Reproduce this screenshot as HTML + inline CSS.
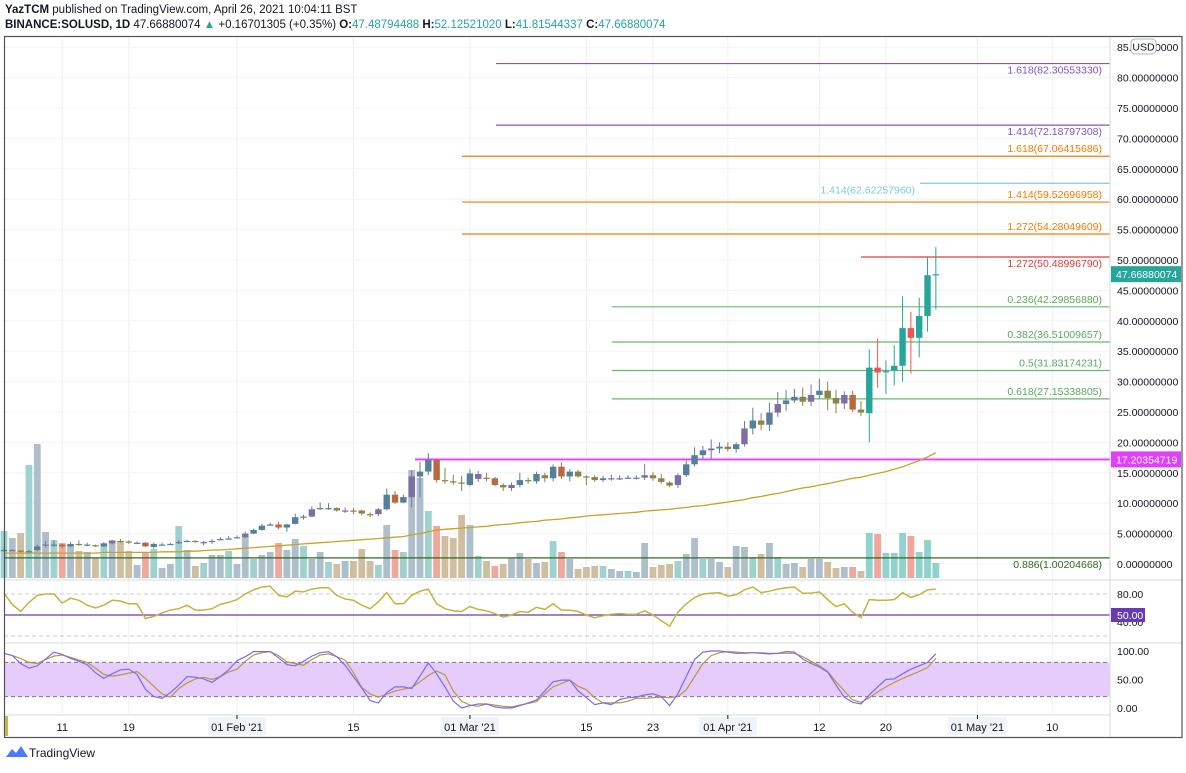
<!DOCTYPE html>
<html><head><meta charset="utf-8">
<style>
html,body{margin:0;padding:0;background:#fff;}
body{width:1186px;height:768px;overflow:hidden;font-family:"Liberation Sans",sans-serif;}
svg text{font-family:"Liberation Sans",sans-serif;}
</style></head>
<body>
<svg id="chart" width="1186" height="768" viewBox="0 0 1186 768" xmlns="http://www.w3.org/2000/svg">
<rect x="0" y="0" width="1186" height="768" fill="#ffffff"/>
<text x="5" y="13" font-size="11.5" fill="#131722"><tspan font-weight="bold">YazTCM</tspan> published on TradingView.com, April 26, 2021 10:04:11 BST</text>
<text x="5" y="28" font-size="11.5" fill="#131722"><tspan font-weight="bold">BINANCE:SOLUSD, 1D</tspan> 47.66880074 <tspan fill="#26a69a">▲</tspan> +0.16701305 (+0.35%) <tspan font-weight="bold">O:</tspan><tspan fill="#26a69a">47.48794488</tspan> <tspan font-weight="bold">H:</tspan><tspan fill="#26a69a">52.12521020</tspan> <tspan font-weight="bold">L:</tspan><tspan fill="#26a69a">41.81544337</tspan> <tspan font-weight="bold">C:</tspan><tspan fill="#26a69a">47.66880074</tspan></text>
<g id="grid"></g>
<g id="bands"></g>
<g id="volume"></g>
<g id="levels"></g>
<g id="candles"></g>
<g id="ind"></g>
<g id="axes"></g>
<g>
<path d="M6 757 l6-8 l4 4 l5-7 l7 11 z" fill="#2962ff" opacity="0.85"/>
<text x="29" y="757" font-size="12" fill="#131722">TradingView</text>
</g>
</svg>
<script>
const opens=[2.3,2.3,2.2,2.1,2.3,3.1,3.2,3.2,2.9,3.3,3.2,3.1,2.9,3.4,3.8,3.7,3.5,3.5,2.8,3.2,3.3,3.6,3.8,3.8,3.6,3.7,4.0,4.2,4.3,4.4,5.0,5.6,6.3,6.5,6.0,6.6,7.7,7.8,9.0,9.2,9.2,8.8,8.8,8.8,8.2,8.2,9.0,11.4,10.1,11.0,14.4,15.2,17.1,13.8,13.6,13.4,13.0,14.0,14.2,14.1,13.0,12.5,13.0,13.8,13.6,14.6,14.1,16.0,14.4,15.2,14.4,14.3,13.8,14.1,14.1,14.1,14.2,14.2,14.6,14.1,13.4,13.0,14.6,16.4,17.9,18.7,19.0,19.3,18.9,19.7,22.3,23.6,22.9,24.9,26.3,26.9,27.5,26.7,27.8,28.5,27.3,26.4,27.8,25.4,24.8,32.3,31.6,31.8,32.6,38.8,37.2,40.8,47.49];
const closes=[2.3,2.3,2.1,2.1,2.9,3.2,3.2,2.9,3.3,3.2,3.2,3.0,3.4,3.8,3.7,3.6,3.5,2.9,3.3,3.2,3.3,3.6,3.8,3.7,3.6,3.8,4.1,4.2,4.4,5.0,5.6,6.3,6.5,6.0,6.5,7.7,7.8,9.0,9.2,9.2,8.8,8.8,8.6,8.3,8.1,9.0,11.4,10.1,11.0,14.4,15.2,17.1,13.8,13.6,13.4,13.3,14.9,14.8,14.0,13.0,12.6,13.0,13.8,13.6,14.8,14.1,16.0,14.4,15.2,14.4,14.3,13.8,14.1,14.1,14.1,14.2,14.2,14.6,14.1,13.5,12.9,14.6,16.4,17.9,18.7,19.0,19.3,18.9,19.7,22.3,23.6,22.9,24.9,26.3,26.9,27.5,26.7,27.8,28.5,27.3,26.4,27.8,25.4,24.9,32.3,31.5,31.7,32.6,38.8,37.2,40.8,47.5,47.66880074];
const highs=[2.5,2.5,2.3,2.3,3.2,3.8,3.9,3.3,3.6,3.9,3.5,3.2,3.6,4.0,4.1,3.9,3.7,3.6,3.5,3.5,3.5,3.9,4.0,3.9,3.8,4.1,4.4,4.6,4.7,5.3,5.8,6.6,6.8,6.9,6.6,8.3,8.1,9.5,10.1,10.0,9.3,9.3,9.2,8.9,8.5,9.2,12.4,12.0,11.4,15.4,16.8,18.2,17.3,15.8,14.7,14.5,15.6,15.3,15.0,14.3,13.3,13.4,15.0,14.2,15.2,15.0,16.4,16.7,15.6,15.5,14.6,14.6,14.5,14.7,14.6,14.6,14.6,16.5,15.1,14.8,13.6,14.9,17.0,19.2,19.4,20.5,20.0,20.0,20.0,23.5,25.7,24.8,26.5,28.3,28.6,28.8,29.0,29.5,30.5,30.0,28.6,28.4,28.5,26.8,35.3,37.1,33.5,36.0,44.0,41.5,43.8,50.4,52.13];
const lows=[2.1,2.2,1.9,1.9,2.1,2.7,2.8,2.6,2.8,3.0,2.9,2.8,2.8,3.2,3.5,3.3,3.3,2.8,2.5,3.0,3.2,3.3,3.6,3.5,3.1,3.3,3.9,4.0,4.2,4.3,4.9,5.5,6.3,5.7,5.3,6.5,7.3,7.7,8.9,8.9,8.6,8.4,8.2,8.0,7.7,7.9,8.8,9.9,10.0,9.3,11.0,14.6,13.4,13.2,13.0,12.0,12.8,13.5,13.6,12.8,12.0,12.0,12.6,13.2,13.2,13.5,13.6,14.0,13.6,14.2,13.0,13.5,13.5,13.7,13.8,14.0,13.9,13.8,13.7,13.2,12.6,12.5,14.3,16.0,17.3,17.3,18.2,18.5,18.3,19.3,21.3,22.0,21.9,24.2,25.2,26.5,26.0,26.0,27.2,25.3,24.8,25.5,25.0,24.3,20.0,29.0,28.0,29.4,30.0,31.3,34.0,38.2,41.82];
const volumes=[47,40,45,113,134,46,38,35,33,27,26,20,33,38,37,27,13,26,29,10,14,52,28,12,15,23,23,27,14,42,19,23,26,35,28,39,32,19,26,16,14,17,17,29,17,13,53,28,26,108,100,67,52,42,40,63,53,22,17,12,14,20,25,19,15,16,37,26,19,9,11,12,12,9,7,7,6,35,11,13,14,17,24,40,19,19,16,11,32,31,21,24,35,21,14,15,11,19,19,16,10,11,11,7,45,44,25,25,45,42,26,38,15];
const maValues=[1.8,1.8,1.8,1.8,1.8,1.8,1.8,1.8,1.8,1.8,1.8,1.8,1.9,1.9,1.9,1.9,1.9,1.9,1.9,2.0,2.0,2.0,2.1,2.1,2.2,2.3,2.3,2.4,2.5,2.6,2.7,2.8,2.9,3.0,3.1,3.2,3.3,3.4,3.5,3.6,3.7,3.8,3.9,4.0,4.1,4.2,4.3,4.4,4.5,4.8,5.0,5.3,5.6,5.7,5.8,5.9,6.0,6.1,6.2,6.4,6.5,6.6,6.8,6.9,7.0,7.2,7.3,7.4,7.6,7.7,7.9,8.0,8.1,8.2,8.3,8.4,8.5,8.7,8.8,8.9,9.0,9.2,9.3,9.5,9.6,9.8,10.0,10.2,10.4,10.6,10.9,11.1,11.4,11.6,11.9,12.2,12.5,12.7,13.0,13.2,13.5,13.8,14.1,14.3,14.6,14.9,15.2,15.6,16.0,16.5,17.0,17.6,18.3];
const rsiValues=[81,65,55,68,78,80,80,67,74,71,64,60,64,71,70,66,66,45,48,53,57,59,64,57,57,59,65,68,72,80,86,90,91,78,76,84,83,87,89,89,78,73,71,64,59,69,82,66,66,78,84,87,66,59,56,55,62,58,56,52,47,50,55,54,61,58,66,57,57,55,50,46,49,51,52,51,51,56,50,42,34,54,66,75,80,81,82,77,79,86,90,82,84,87,89,90,81,81,83,72,62,66,54,46,72,71,71,72,82,75,79,86,87];
const stochK=[96,92,78,70,74,86,98,94,87,82,76,62,52,60,67,68,59,33,20,17,27,40,55,54,51,45,55,67,83,90,99,99,99,88,76,74,82,91,97,99,90,75,55,35,13,9,27,37,37,34,56,79,60,37,12,0,4,7,7,2,0,0,4,9,14,30,46,49,49,30,18,6,9,6,15,18,19,23,25,20,4,25,55,85,98,100,100,98,96,96,97,96,95,96,99,98,86,78,72,63,40,19,10,7,23,37,50,51,60,68,74,80,95];
const stochD=[96,92,87,80,78,85,91,93,89,84,80,70,59,56,58,61,64,52,38,25,19,34,44,51,54,50,55,63,68,82,93,97,99,92,81,78,75,85,93,95,90,84,62,36,25,19,24,30,33,36,46,57,65,58,30,12,5,3,7,5,3,2,5,8,11,25,37,43,49,38,32,18,9,9,9,12,17,17,18,19,18,20,32,55,78,92,97,99,98,97,97,97,96,96,96,96,90,82,74,64,46,30,14,10,18,28,37,45,52,58,64,71,87];
const priceTicks=[85,80,75,70,65,60,55,50,45,40,35,30,25,20,15,10,5,0];
const dateTickIdx=[7,15,28,42,56,70,78,87,98,106,117,126];
const dateTickLabels=["11","19","01 Feb '21","15","01 Mar '21","15","23","01 Apr '21","12","20","01 May '21","10"];
const fibPrices=[82.30553330,72.18797308,67.06415686,62.62257960,59.52696958,54.28049609,50.48996790,42.29856880,36.51009657,31.83174231,27.15338805,17.20354719,1.00204668];
const fibRatios=["1.618","1.414","1.618","1.414","1.414","1.272","1.272","0.236","0.382","0.5","0.618","","0.886"];

const NS="http://www.w3.org/2000/svg";
const PL=4, PR=1110, FR=1182;
const xAt=i=>4+8.32*i;
const yP=p=>564-p*6.08;
const yV=v=>578-v;
const yR=r=>615-(r-50)*0.7;
const yS=s=>708-s*0.57;
function mk(parent,tag,attrs,text){const e=document.createElementNS(NS,tag);for(const k in attrs)e.setAttribute(k,attrs[k]);if(text!==undefined)e.textContent=text;document.getElementById(parent).appendChild(e);return e;}

for(let k=0;k<dateTickIdx.length;k++){const x=xAt(dateTickIdx[k]);if(x<PR){const g=mk('grid','line',{x1:x,x2:x,y1:37,y2:715,stroke:'#eef0f4','stroke-width':1});

}}
for(const p of priceTicks){const g=mk('grid','line',{x1:PL,x2:PR,y1:yP(p),y2:yP(p),stroke:'#f2f3f6','stroke-width':1});

}

const band=mk('bands','rect',{x:PL,y:yS(80),width:PR-PL,height:yS(20)-yS(80),fill:'#e6ccfb'});


for(const v of [80,20]){const l=mk('bands','line',{x1:PL,x2:PR,y1:yS(v),y2:yS(v),stroke:'#787b86','stroke-dasharray':'4 3','stroke-width':1});

}
for(const v of [80,20]){const l=mk('bands','line',{x1:PL,x2:PR,y1:yR(v),y2:yR(v),stroke:'#c8cad0','stroke-dasharray':'4 3','stroke-width':1});

}

for(let i=0;i<volumes.length;i++){const up=closes[i]>=opens[i];const x=xAt(i);
const c=i>=104?(up?'#8fd3cd':'#f3a59b'):(up?(i%3==0?'#9fd2cf':'#aebfcc'):(closes[i]<opens[i]*0.94?'#f0a79c':'#cfbe9f'));
const b=mk('volume','rect',{x:x-3.4,y:yV(volumes[i]),width:6.8,height:volumes[i],fill:c});

}

const fibStyle=[['#7e57c2',496,'b'],['#7e57c2',496,'b'],['#f57c00',462,'a'],['#81c8e6',920,'l'],['#f57c00',462,'a'],['#f57c00',462,'a'],['#e53935',861,'b'],['#66bb6a',612,'a'],['#66bb6a',612,'a'],['#66bb6a',612,'a'],['#66bb6a',612,'a'],['#e040fb',415,'n'],['#33691e',PL,'b']];
for(let k=0;k<fibPrices.length;k++){const [col,x0,pos]=fibStyle[k];const y=yP(fibPrices[k]);
if(pos==='n'){const gl=mk('levels','line',{x1:x0,x2:PR,y1:y,y2:y,stroke:'#fbdcfd','stroke-width':4});

}
const l=mk('levels','line',{x1:x0,x2:PR,y1:y,y2:y,stroke:col,'stroke-width':pos==='n'?1.6:1.2});


if(pos!=='n'){const txt=fibRatios[k]+'('+fibPrices[k].toFixed(8)+')';
const tx=pos==='l'?x0-5:1102;const ty=pos==='a'?y-4:y+10;
const t=mk('levels','text',{x:tx,y:ty,'font-size':10.5,fill:col==='#66bb6a'?'#5aa85e':col,'text-anchor':'end'},txt);

}}

for(let i=0;i<opens.length;i++){const o=opens[i],c=closes[i],up=c>=o,x=xAt(i);
let col;if(i>=104)col=up?'#26a69a':'#ef5350';else if(up)col=(i%4==1?'#7c6fa6':'#56809a');else col=(c<o*0.94?'#b9683f':'#8c8349');
const w=mk('candles','line',{x1:x,x2:x,y1:yP(highs[i]),y2:yP(lows[i]),stroke:col,'stroke-width':1});


const top=yP(Math.max(o,c)),h=Math.max(1.2,Math.abs(yP(o)-yP(c)));
const b=mk('candles','rect',{x:x-3.2,y:top,width:6.4,height:h,fill:col});

}

let d='';for(let i=0;i<maValues.length;i++)d+=(i?'L':'M')+xAt(i).toFixed(1)+' '+yP(maValues[i]).toFixed(1);
const ma=mk('ind','path',{d:d,fill:'none',stroke:'#c9a227','stroke-width':1.3});



const r50=mk('ind','line',{x1:PL,x2:PR,y1:yR(50),y2:yR(50),stroke:'#673ab7','stroke-width':1.2});


d='';for(let i=0;i<rsiValues.length;i++)d+=(i?'L':'M')+xAt(i).toFixed(1)+' '+yR(rsiValues[i]).toFixed(1);
const rl=mk('ind','path',{d:d,fill:'none',stroke:'#c5b33a','stroke-width':1.5});


d='';for(let i=0;i<stochD.length;i++)d+=(i?'L':'M')+xAt(i).toFixed(1)+' '+yS(stochD[i]).toFixed(1);
const sd=mk('ind','path',{d:d,fill:'none',stroke:'#b8973a','stroke-width':1.2});


d='';for(let i=0;i<stochK.length;i++)d+=(i?'L':'M')+xAt(i).toFixed(1)+' '+yS(stochK[i]).toFixed(1);
const sk=mk('ind','path',{d:d,fill:'none',stroke:'#7b6cf0','stroke-width':1.2});



const sepAttrs=[[PL,580,FR,580],[PL,643,FR,643],[PL,715,PR,715],[PR,37,PR,738]];
for(const s of sepAttrs){const l=mk('axes','line',{x1:s[0],y1:s[1],x2:s[2],y2:s[3],stroke:'#d6d8de','stroke-width':1});

}
const fr=mk('axes','rect',{x:4.5,y:36.5,width:FR-4.5,height:701,fill:'none',stroke:'#50535e','stroke-width':1.2});


for(const p of priceTicks){const t=mk('axes','text',{x:1117,y:yP(p)+4,'font-size':10.5,fill:'#131722'},p.toFixed(8));

}
const ub=mk('axes','rect',{x:1131,y:39,width:25,height:15,rx:4,fill:'#fff',stroke:'#b2b5be'});


const ut=mk('axes','text',{x:1143.5,y:50.5,'font-size':10.5,fill:'#131722','text-anchor':'middle'},'USD');


function badge(y,txt,col,name){const r=mk('axes','rect',{x:1111,y:y-8,width:70,height:16,fill:col});


const t=mk('axes','text',{x:1116,y:y+4,'font-size':10.5,fill:'#fff'},txt);

}
badge(yP(closes[closes.length-1]),closes[closes.length-1].toFixed(8),'#26a69a','last-price');
badge(yP(fibPrices[11]),fibPrices[11].toFixed(8),'#e040fb','resistance-price');
for(const v of [80,40]){const t=mk('axes','text',{x:1117,y:yR(v)+4,'font-size':10.5,fill:'#131722'},v.toFixed(2));

}
const rb=mk('axes','rect',{x:1111,y:yR(50)-7,width:34,height:14,fill:'#673ab7'});


const rt=mk('axes','text',{x:1117,y:yR(50)+4,'font-size':10.5,fill:'#fff'},'50.00');


for(const v of [100,50,0]){const t=mk('axes','text',{x:1117,y:yS(v)+4,'font-size':10.5,fill:'#131722'},v.toFixed(2));

}
for(let k=0;k<dateTickIdx.length;k++){const x=xAt(dateTickIdx[k]);const lab=dateTickLabels[k];
if(lab.length>3){const bg=mk('axes','rect',{x:x-29,y:717,width:58,height:18,fill:'#f0f3fa'});


const tk=mk('axes','line',{x1:x,x2:x,y1:715,y2:719,stroke:'#131722'});

}
const t=mk('axes','text',{x:x,y:731,'font-size':11,fill:'#131722','text-anchor':'middle'},lab);

}
const lb=mk('axes','rect',{x:5,y:716,width:3,height:20,fill:'#c9b54a'});


</script>
</body></html>
